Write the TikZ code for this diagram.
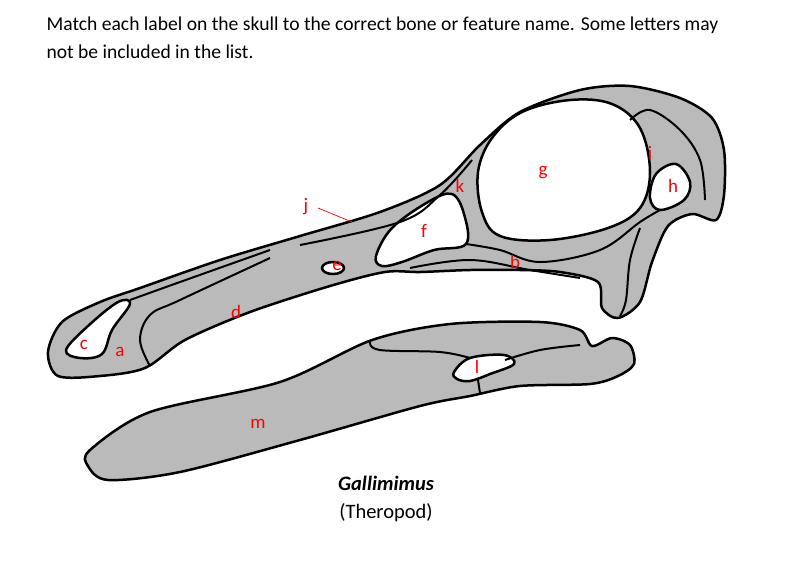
\documentclass[tikz,border=0pt]{standalone}
\usepackage{fontspec}
\setmainfont{Carlito}
\begin{document}
\begin{tikzpicture}[x=1pt,y=-1pt,
  bone/.style={draw=black,line width=2.5pt,fill=black!27,line join=round},
  hole/.style={draw=black,line width=2.5pt,fill=white,line join=round},
  ln/.style={draw=black,line width=2pt},
  lab/.style={text=red,font=\fontsize{19}{19}\selectfont}]
\useasboundingbox (0,0) rectangle (794,574);
\node[anchor=west,align=left,font=\fontsize{19.6}{28}\selectfont] (q) at (43,38) {Match each label on the skull to the correct bone or feature name. Some letters may\\not be included in the list.};
% upper skull
\draw[bone] plot[smooth cycle,tension=0.5] coordinates {(48,352)(62,322)(100,302)(140,288)(220,260)(300,236)(380,212)(440,185)(480,145)(520,112)(580,90)(630,86)(680,98)(712,118)(724,150)(724,195)(716,220)(692,214)(668,226)(652,262)(640,302)(618,318)(602,308)(598,282)(560,272)(520,270)(470,270)(420,272)(385,272)(330,286)(250,312)(185,340)(145,368)(100,376)(58,376)};
% lower jaw
\draw[bone] plot[smooth cycle,tension=0.5] coordinates {(90,450)(150,412)(280,382)(372,340)(450,324)(540,322)(580,330)(592,346)(612,338)(630,345)(634,364)(618,376)(590,384)(520,386)(470,396)(420,406)(300,440)(180,472)(108,480)(88,466)};
% openings
\draw[hole] plot[smooth cycle,tension=0.6] coordinates {(478,172)(492,138)(522,112)(570,100)(612,104)(640,128)(650,172)(640,208)(608,228)(550,240)(500,236)(482,212)};
\draw[hole] plot[smooth cycle,tension=0.6] coordinates {(376,256)(392,228)(428,202)(452,194)(464,214)(466,244)(434,250)(402,262)(382,266)};
\draw[hole] plot[smooth cycle,tension=0.6] coordinates {(66,350)(88,326)(118,302)(130,304)(112,330)(102,354)(80,358)};
\draw[hole] plot[smooth cycle,tension=0.6] coordinates {(650,198)(656,174)(676,164)(690,182)(684,200)(660,210)};
\draw[hole] (333,268) ellipse (11 and 6);
\draw[hole] plot[smooth cycle,tension=0.6] coordinates {(454,372)(470,358)(504,355)(514,364)(490,374)(470,381)(457,379)};
% internal lines
\draw[ln] plot[smooth,tension=0.6] coordinates {(130,300)(180,282)(270,250)};
\draw[ln] plot[smooth,tension=0.6] coordinates {(150,366)(140,340)(150,315)(180,300)(270,258)};
\draw[ln] plot[smooth,tension=0.6] coordinates {(300,245)(400,222)(440,195)(472,160)};
\draw[ln] plot[smooth,tension=0.6] coordinates {(466,244)(500,250)(540,262)(600,250)(640,222)(660,210)};
\draw[ln] plot[smooth,tension=0.6] coordinates {(410,268)(470,260)(530,270)(580,278)};
\draw[ln] plot[smooth,tension=0.6] coordinates {(630,120)(650,110)(680,130)(700,160)(705,200)};
\draw[ln] plot[smooth,tension=0.6] coordinates {(640,228)(630,260)(626,300)(620,316)};
\draw[ln] plot[smooth,tension=0.6] coordinates {(370,342)(380,350)(440,352)(470,358)};
\draw[ln] plot[smooth,tension=0.6] coordinates {(478,380)(480,393)};
\draw[ln] plot[smooth,tension=0.6] coordinates {(505,360)(540,350)(580,345)};
% labels
\node[lab] (a) at (120,352) {a};
\node[lab] (b) at (515,262) {b};
\node[lab] (c) at (84,345) {c};
\node[lab] (d) at (236,312) {d};
\node[lab] (e) at (337,266) {e};
\node[lab] (f) at (424,231) {f};
\node[lab] (g) at (543,173) {g};
\node[lab] (h) at (673,186) {h};
\node[lab] (i) at (650,153) {i};
\node[lab] (j) at (306,207) {j};
\node[lab] (k) at (460,186) {k};
\node[lab] (l) at (477,367) {l};
\node[lab] (m) at (258,424) {m};
\coordinate (jt) at (352,222);
\draw[red,line width=0.7pt] (318,208) -- (jt);
\node[font=\fontsize{20.5}{20}\selectfont\bfseries\itshape] (n1) at (386,483) {Gallimimus};
\node[font=\fontsize{20.5}{20}\selectfont] (n2) at (386,513) {(Theropod)};
\end{tikzpicture}
\end{document}
